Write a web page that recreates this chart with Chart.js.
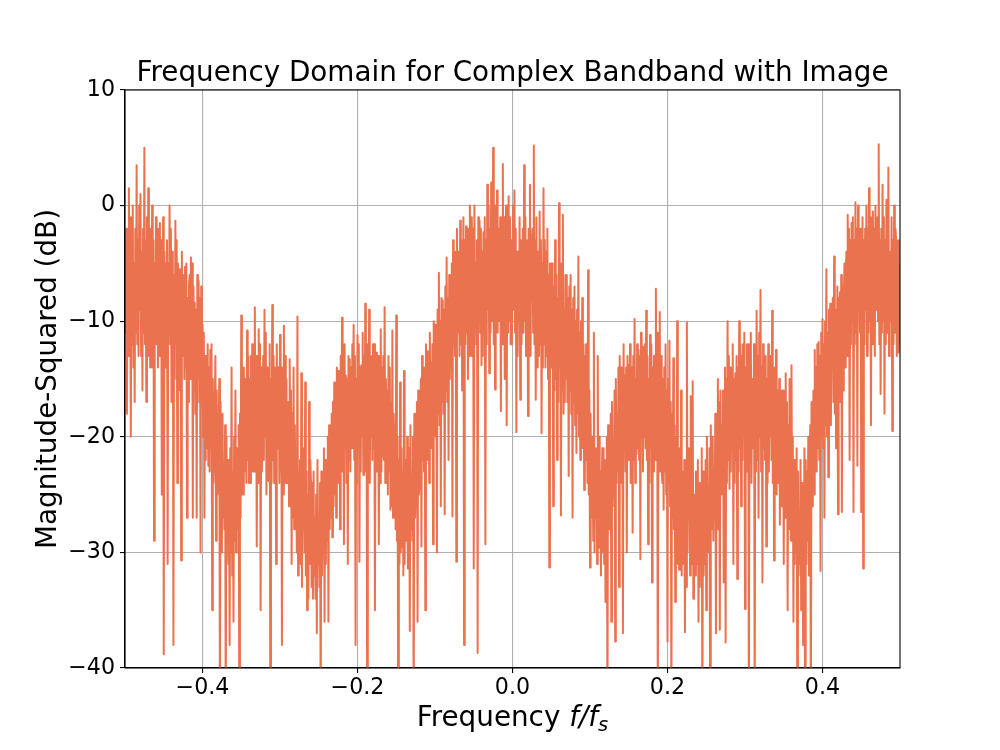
<!DOCTYPE html>
<html><head><meta charset="utf-8">
<script src="https://cdn.jsdelivr.net/npm/chart.js@4.4.1/dist/chart.umd.min.js"></script>
<style>html,body{margin:0;padding:0;background:#fff;} #wrap{width:1000px;height:750px;}</style>
</head><body><div id="wrap"><canvas id="c" width="1000" height="750"></canvas></div>
<script>
// Frequency grid (normalised f/fs): spike readings every 0.0025, two core-band readings in between
const FREQ_START = -0.5;
const FREQ_STEP = 0.0025;

// Spike extremes (dB), in frequency order
const magSeg1 = [-3,-18,1.5,-20,0,-17,3.5,-13,1,-16,5,-17,1.5,-14,0,-29,-1,-14,-1.5,-25,
  -38.8,-5,-31,0,-17,-38,-1.3,-24,-5.5,-30.7,-8,-5.3,-27,-7,-4.5,-27,-8.4,-27,-6.5,-30,
  -10.3,-27,-13,-22.5,-12.5,-35,-22,-29,-24,-45];
const magSeg2 = [-30,-24,-45,-22,-38,-14,-36,-16,-28,-45,-9.5,-25,-15,-10.8,-24,-13,-23,-8.8,-29.5,-10.7,
  -35,-18,-9,-25,-23.8,-45,-8.6,-24,-31,-14,-11.2,-38,-10.4,-24,-21,-13.3,-31,-14,-27,-9.6,
  -29,-14.5,-28,-15.3,-35,-17,-24,-34,-27,-37];
const magSeg3 = [-27.4,-45,-28,-36,-23,-36,-22.3,-28.7,-15.3,-27,-14.3,-28,-9.7,-29.3,-14.7,-31,-13.3,-21,-10.3,-38,
  -11.2,-30.8,-13.8,-23.3,-8.5,-45,-9,-20,-12,-35,-12.7,-29.3,-10.7,-21.7,-8.8,-22,-13,-26.3,-10.8,-23,
  -9.5,-45,-15.3,-29.5,-14.3,-24.5,-31.4,-36.8,-24,-45];
const magSeg4 = [-24.5,-36,-24,-29.5,-18.4,-35,-12.6,-24,-13.6,-29.3,-10.3,-30,-5.8,-26,-8.2,-26.7,-4.5,-22,-8,-26.9,
  -5.3,-30.8,-10,-1.3,-16,-38,-1.8,-15,0,-13,-31.4,-4.9,-38.7,-1.3,-13.8,-2.3,-29.3,1.8,-14.5,2,
  5,-15.9,1.3,-7.6,-17.8,3.6,-15,-19,0.8,-12];
const magSeg5 = [-5,1.3,-19.6,-4,-16.8,-6,3.5,-13,-18.2,1.8,-3,5.2,-16.8,-14,-0.5,-19.7,1.5,-14,-2,-31.3,
  -5,-26,-3,-22,0.2,-26.8,-0.8,-17,-6,-23.4,-6,-27,-7,-21.4,-4.4,-22,-8,-24.6,-12,-5.6,
  -31.3,-20,-11,-27,-13,-29.6,-25.7,-21,-34.3,-45];
const magSeg6 = [-28,-36,-23.5,-37.7,-18,-33,-14,-37,-14.7,-30,-13.8,-24,-28.3,-9.8,-21.5,-12.5,-30.6,-12.2,-20,-9.1,
  -29.3,-11.2,-32.6,-13,-7.2,-45,-9.2,-23,-26.3,-12,-37.7,-11.7,-45,-13.2,-34.3,-10,-31.5,-16,-25,-36.9,
  -10.1,-24.5,-16.5,-15.2,-28.5,-30,-36,-27,-45,-25];
const magSeg7 = [-35,-24.5,-45,-27,-23.6,-37,-15,-36.7,-19,-32.6,-37.8,-10,-24.5,-17,-31,-14.5,-32.3,-10,-26,-12,
  -34.9,-12,-45,-11,-19,-45,-9.1,-27,-7.3,-32.6,-13,-29.5,-12,-20,-9.1,-30.7,-12.5,-22,-27.6,-16,
  -31,-14.5,-35,-15,-13.8,-36,-22,-45,-27,-35];
const magSeg8 = [-38,-45,-23,-32,-45,-19,-12.5,-23,-11.8,-31.6,-9.8,-27,-5.5,-23.5,-8.5,-13,-4.4,-21,-26.7,-7.5,
  -26.5,-8,-5.7,-0.8,-22,-1.5,-26.5,0.3,-22.5,-4.2,-26.5,-31.4,-2,-13,1.5,-19,-0.5,-13,-6,5.3,
  -16.3,1.8,-18,0.5,3.3,-8,-19.5,0,-3,-12.7,-5];

// Dense core band (dB) between each pair of spike readings: upper and lower edges
const coreHiA = [-2,-4,-1,-3,-5,-2,-3,0,-4,-2,-3,-1,-4,-2,-3,-5,-2,-4,-3,-1,-4,-3,-5,-2,
  -4,-6,-3,-5,-7,-4,-6,-5,-8,-6,-5,-7,-9,-6,-8,-7,
  -11,-13,-12,-14,-12,-15,-13,-16,-15,-17,-18,-19,
  -20,-22,-21,-23,-20,-21,-19,-18,
  -16,-14,-15,-13,-15,-12,-14,-13,-15,-12,-14,-13,-11,-14,-12,-15,-13,-14,-12,-15,-14,-16,-13,-15,-17,-16,-18,-19,
  -21,-23,-22,-24,-21,-23,-25,-22,-24,-23,-25,-22,-24,-23,-21,-22,-20,-19,-18,-17,
  -16,-14,-15,-13,-14,-12,-15,-13,-14,-12,-13,-15,-12,-14,-11,-13,-14,-12,-15,-13,-12,-14,-13,-15,-14,-13,-15,-16,-14,-17,-18,-19,
  -20,-22,-21,-23,-22,-20,-21,-19,-20,-18,-17,-16,
  -15,-13,-14,-12,-13,-11,-12,-10,-11,-9,-10,-8,-9,-7,-8,-6];
const coreHiB = [-5,-3,-4,-2,-4,-3,-1,-3,-2,-4,-1,-2,0,-3,-1,-2,-4,-1,-3,0,-2,-1,-3,0,-2,-1,-3,-1,0,-2,
  -1,-3,0,-2,-4,-1,-3,-2,-1,-3,-2,-4,-2,-3,-1,-4,-3,-5,-3,-4,-6,-5,
  -5,-7,-6,-8,-5,-7,-9,-6,-8,-7,-9,-8,-10,-9,-11,-10,-12,-13,-15,-16,
  -18,-20,-21,-22,-20,-23,-21,-22,-20,-19,-18,-17,
  -16,-15,-14,-13,-15,-12,-14,-13,-12,-14,-13,-15,-12,-13,-11,-14,-12,-13,-15,-12,-14,-13,-11,-14,-13,-15,-14,-16,-15,-17,-18,-19,
  -20,-22,-21,-23,-22,-24,-21,-23,-22,-25,-23,-22,-24,-21,-23,-22,-20,-21,-19,-20,-18,-19,-17,-16,
  -16,-14,-15,-13,-14,-12,-15,-13,-14,-12,-13,-11,-14,-12,-13,-15,-12,-14,-13,-11,-14,-12,-13,-15,-14,-13,-15,-14,-16,-15,-17,-16,-18,-17,-19,-20,
  -20,-22,-21,-23,-22,-24,-21,-22,-20,-19,-17,-16,
  -14,-12,-13,-11,-12,-10,-11,-9,-10,-8,-9,-7,-8,-6,-7,-5,
  -4,-2,-3,-1,-3,-2,0,-2,-1,-3,0,-2,-1,-3,-2,0,-1,-3,-2,-1,-3,-2,-4,-1,-3,-2,-4,-3];
const coreLoA = [-11,-13,-10,-12,-14,-11,-12,-9,-13,-11,-12,-10,-13,-12,-14,-11,-12,-13,-10,-12,-14,-13,-11,-12,
  -13,-15,-12,-14,-16,-13,-15,-14,-17,-15,-14,-16,-18,-15,-17,-16,
  -20,-22,-21,-23,-21,-24,-22,-25,-24,-26,-27,-28,
  -29,-31,-30,-32,-29,-30,-28,-27,
  -25,-23,-24,-22,-24,-21,-23,-22,-24,-21,-23,-22,-20,-23,-21,-24,-22,-23,-21,-24,-23,-25,-22,-24,-26,-25,-27,-28,
  -30,-32,-31,-33,-30,-32,-34,-31,-33,-32,-34,-31,-33,-32,-30,-31,-29,-28,-27,-26,
  -25,-23,-24,-22,-23,-21,-24,-22,-23,-21,-22,-24,-21,-23,-20,-22,-23,-21,-24,-22,-21,-23,-22,-24,-23,-22,-24,-25,-23,-26,-27,-28,
  -29,-31,-30,-32,-31,-29,-30,-28,-29,-27,-26,-25,
  -24,-22,-23,-21,-22,-20,-21,-19,-20,-18,-19,-17,-18,-16,-17,-15];
const coreLoB = [-14,-12,-13,-11,-13,-12,-10,-12,-11,-13,-10,-11,-9,-12,-10,-11,-13,-10,-12,-9,-11,-10,-12,-9,-11,-10,-12,-10,-9,-11,
  -10,-12,-9,-11,-13,-10,-12,-11,-10,-12,-11,-13,-11,-12,-10,-13,-12,-14,-12,-13,-15,-14,
  -14,-16,-15,-17,-14,-16,-18,-15,-17,-16,-18,-17,-19,-18,-20,-19,-21,-22,-24,-25,
  -27,-29,-30,-31,-29,-32,-30,-31,-29,-28,-27,-26,
  -25,-24,-23,-22,-24,-21,-23,-22,-21,-23,-22,-24,-21,-22,-20,-23,-21,-22,-24,-21,-23,-22,-20,-23,-22,-24,-23,-25,-24,-26,-27,-28,
  -29,-31,-30,-32,-31,-33,-30,-32,-31,-34,-32,-31,-33,-30,-32,-31,-29,-30,-28,-29,-27,-28,-26,-25,
  -25,-23,-24,-22,-23,-21,-24,-22,-23,-21,-22,-20,-23,-21,-22,-24,-21,-23,-22,-20,-23,-21,-22,-24,-23,-22,-24,-23,-25,-24,-26,-25,-27,-26,-28,-29,
  -29,-31,-30,-32,-31,-33,-30,-31,-29,-28,-26,-25,
  -23,-21,-22,-20,-21,-19,-20,-18,-19,-17,-18,-16,-17,-15,-16,-14,
  -13,-11,-12,-10,-12,-11,-9,-11,-10,-12,-9,-11,-10,-12,-11,-9,-10,-12,-11,-10,-12,-11,-13,-10,-12,-11,-13,-12];

const xTickValues = [-0.4, -0.2, 0.0, 0.2, 0.4];
const yTickValues = [10, 0, -10, -20, -30, -40];

const titleText = 'Frequency Domain for Complex Bandband with Image';
const yLabelText = 'Magnitude-Squared (dB)';
const xLabelPlain = 'Frequency ';
const xLabelItalic = 'f/f';
const xLabelSub = 's';

const spikes = [].concat(magSeg1, magSeg2, magSeg3, magSeg4, magSeg5, magSeg6, magSeg7, magSeg8);
const coreHi = coreHiA.concat(coreHiB);
const coreLo = coreLoA.concat(coreLoB);

// Arrange readings in frequency order: spike, then the two core readings (ordered so the trace keeps reversing)
const points = [];
for (let i = 0; i < spikes.length; i++) {
  const f0 = FREQ_START + i * FREQ_STEP;
  points.push({ x: f0, y: spikes[i] });
  if (i < spikes.length - 1 && i < coreHi.length) {
    const down = spikes[i] >= spikes[i + 1];
    const a = down ? coreLo[i] : coreHi[i];
    const b = down ? coreHi[i] : coreLo[i];
    points.push({ x: f0 + FREQ_STEP / 3, y: a });
    points.push({ x: f0 + 2 * FREQ_STEP / 3, y: b });
  }
}

const FONT = 'DejaVu Sans';
const minus = s => String(s).replace('-', '\u2212');

const textPlugin = {
  id: 'texts',
  afterDraw(chart) {
    const ctx = chart.ctx;
    const a = chart.chartArea;
    const cx = (a.left + a.right) / 2;
    ctx.save();
    ctx.strokeStyle = '#000';
    ctx.lineWidth = 1.1;
    ctx.strokeRect(a.left, a.top, a.right - a.left, a.bottom - a.top);
    ctx.fillStyle = '#000';
    ctx.font = '27.8px "' + FONT + '"';
    ctx.textAlign = 'center';
    ctx.textBaseline = 'alphabetic';
    ctx.fillText(titleText, cx, 81);
    ctx.save();
    ctx.translate(56, (a.top + a.bottom) / 2);
    ctx.rotate(-Math.PI / 2);
    ctx.fillText(yLabelText, 0, 0);
    ctx.restore();
    const fN = '27.8px "' + FONT + '"';
    const fI = 'italic 27.8px "' + FONT + '"';
    const fS = 'italic 19.5px "' + FONT + '"';
    ctx.textAlign = 'left';
    ctx.font = fN; const w1 = ctx.measureText(xLabelPlain).width;
    ctx.font = fI; const w2 = ctx.measureText(xLabelItalic).width;
    ctx.font = fS; const w3 = ctx.measureText(xLabelSub).width;
    const x0 = cx - (w1 + w2 + w3) / 2;
    const by = 726;
    ctx.font = fN; ctx.fillText(xLabelPlain, x0, by);
    ctx.font = fI; ctx.fillText(xLabelItalic, x0 + w1, by);
    ctx.font = fS; ctx.fillText(xLabelSub, x0 + w1 + w2, by + 5);
    ctx.restore();
  }
};

new Chart(document.getElementById('c'), {
  type: 'line',
  data: {
    datasets: [{
      data: points,
      borderColor: 'rgb(235,114,79)',
      borderWidth: 2,
      borderJoinStyle: 'round',
      pointRadius: 0,
      tension: 0,
      fill: false
    }]
  },
  options: {
    responsive: false,
    devicePixelRatio: 1,
    animation: false,
    layout: { padding: { top: 90, right: 100, left: 0, bottom: 0 } },
    plugins: { legend: { display: false }, tooltip: { enabled: false }, title: { display: false } },
    scales: {
      x: {
        type: 'linear',
        min: -0.5, max: 0.5,
        afterBuildTicks: s => { s.ticks = xTickValues.map(v => ({ value: v })); },
        afterFit: s => { s.height = 82; },
        ticks: {
          callback: v => minus(Number(v).toFixed(1)),
          font: { family: FONT, size: 22.2 },
          color: '#000',
          padding: 2,
          maxRotation: 0
        },
        grid: { color: '#b0b0b0', lineWidth: 1.1, tickColor: '#000', tickLength: 5, drawTicks: true },
        border: { color: '#000', width: 1.1 }
      },
      y: {
        type: 'linear',
        min: -40, max: 10,
        afterBuildTicks: s => { s.ticks = yTickValues.map(v => ({ value: v })); },
        afterFit: s => { s.width = 125; },
        ticks: {
          callback: v => minus(v),
          font: { family: FONT, size: 22.2 },
          color: '#000',
          padding: 5
        },
        grid: { color: '#b0b0b0', lineWidth: 1.1, tickColor: '#000', tickLength: 5, drawTicks: true },
        border: { color: '#000', width: 1.1 }
      }
    }
  },
  plugins: [textPlugin]
});
</script>
</body></html>
